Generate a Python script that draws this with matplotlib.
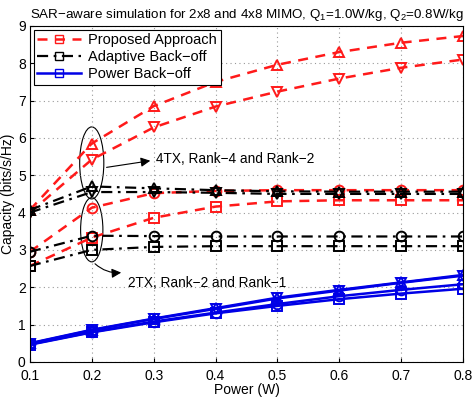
import numpy as np
import matplotlib
matplotlib.use("Agg")
import matplotlib.pyplot as plt
from matplotlib.patches import Ellipse
from matplotlib.lines import Line2D

plt.rcParams['font.family'] = ['Liberation Sans', 'DejaVu Sans']
plt.rcParams['mathtext.default'] = 'regular'

power = [0.1, 0.2, 0.3, 0.4, 0.5, 0.6, 0.7, 0.8]

# Proposed approach (4TX rank-4, 4TX rank-2, 2TX rank-2, 2TX rank-1)
prop_4tx_r4 = [4.07, 5.85, 6.85, 7.50, 7.96, 8.30, 8.55, 8.73]
prop_4tx_r2 = [4.00, 5.42, 6.28, 6.84, 7.24, 7.59, 7.88, 8.10]
prop_2tx_r2 = [2.95, 4.13, 4.52, 4.58, 4.60, 4.60, 4.60, 4.60]
prop_2tx_r1 = [2.57, 3.33, 3.86, 4.16, 4.30, 4.33, 4.33, 4.33]

# Adaptive back-off
adapt_4tx_r4 = [4.07, 4.70, 4.65, 4.60, 4.57, 4.56, 4.56, 4.56]
adapt_4tx_r2 = [4.00, 4.55, 4.55, 4.53, 4.50, 4.50, 4.50, 4.50]
adapt_2tx_r2 = [2.95, 3.38, 3.37, 3.36, 3.36, 3.36, 3.36, 3.36]
adapt_2tx_r1 = [2.57, 3.00, 3.08, 3.10, 3.10, 3.10, 3.10, 3.10]

# Power back-off
pwr_4tx_r4 = [0.50, 0.86, 1.16, 1.44, 1.72, 1.93, 2.13, 2.33]
pwr_4tx_r2 = [0.49, 0.85, 1.15, 1.42, 1.70, 1.91, 2.12, 2.31]
pwr_2tx_r2 = [0.47, 0.80, 1.08, 1.32, 1.55, 1.76, 1.93, 2.08]
pwr_2tx_r1 = [0.46, 0.79, 1.06, 1.30, 1.50, 1.68, 1.83, 1.96]

red = '#ff1a1a'
black = 'black'
blue = '#0000e6'

fig = plt.figure(figsize=(4.74, 3.99), dpi=100)
ax = fig.add_axes([0.063, 0.093, 0.914, 0.842])

marks = ['^', 'v', 'o', 's']

def draw(series, color, ls, lw, dashes=None):
    for vals, m in zip(series, marks):
        line, = ax.plot(power, vals, color=color, ls=ls, lw=lw, marker=m,
                        markersize=7, markerfacecolor='none',
                        markeredgecolor=color, markeredgewidth=1.4)
        if dashes is not None:
            line.set_dashes(dashes)

draw([prop_4tx_r4, prop_4tx_r2, prop_2tx_r2, prop_2tx_r1], red, '--', 1.8, (4, 3))
draw([adapt_4tx_r4, adapt_4tx_r2, adapt_2tx_r2, adapt_2tx_r1], black, '-.', 1.6, (5, 2.5, 1.2, 2.5))
draw([pwr_4tx_r4, pwr_4tx_r2, pwr_2tx_r2, pwr_2tx_r1], blue, '-', 1.8)

ax.set_xlim(0.1, 0.8)
ax.set_ylim(0, 9)
ax.set_xticks(power)
ax.set_yticks(range(10))
ax.grid(True, ls=(0, (1, 3)), color='#999999', lw=0.8)
ax.tick_params(labelsize=10, direction='in', length=3)
ax.tick_params(axis='y', pad=3)
ax.tick_params(axis='x', pad=5)
for s in ax.spines.values():
    s.set_linewidth(0.8)

ax.set_xlabel('Power (W)', fontsize=10, labelpad=0)
ax.set_ylabel('Capacity (bits/s/Hz)', fontsize=10, labelpad=2)
ax.set_title('SAR\u2212aware simulation for 2x8 and 4x8 MIMO, Q$_1$=1.0W/kg, Q$_2$=0.8W/kg',
             fontsize=9.6, pad=6)

# annotations
ax.add_patch(Ellipse((0.2, 5.33), 0.039, 1.93, fill=False, ec='black', lw=0.8))
ax.add_patch(Ellipse((0.2, 3.54), 0.036, 1.72, fill=False, ec='black', lw=0.8))
ax.annotate('', xy=(0.299, 5.4), xytext=(0.2195, 5.2),
            arrowprops=dict(arrowstyle='-|>', color='black', lw=0.8, mutation_scale=14))
ax.text(0.304, 5.43, '4TX, Rank\u22124 and Rank\u22122', fontsize=9.8, va='center')
ax.annotate('', xy=(0.252, 2.4), xytext=(0.202, 2.68),
            arrowprops=dict(arrowstyle='-|>', color='black', lw=0.8, mutation_scale=14,
                            connectionstyle='arc3,rad=0.25'))
ax.text(0.258, 2.12, '2TX, Rank\u22122 and Rank\u22121', fontsize=9.8, va='center')

handles = [
    Line2D([], [], color=red, ls='--', dashes=(4, 3), lw=1.8, marker='s', markersize=6,
           markerfacecolor='none', markeredgecolor=red),
    Line2D([], [], color=black, ls='-.', dashes=(5, 2.5, 1.2, 2.5), lw=1.6, marker='s', markersize=6,
           markerfacecolor='none', markeredgecolor=black),
    Line2D([], [], color=blue, ls='-', lw=1.8, marker='s', markersize=6,
           markerfacecolor='none', markeredgecolor=blue),
]
leg = ax.legend(handles, ['Proposed Approach', 'Adaptive Back\u2212off', 'Power Back\u2212off'],
                loc='upper left', fontsize=10.5, fancybox=False, edgecolor='black',
                handlelength=3.0, borderpad=0.25, labelspacing=0.2, handletextpad=0.5,
                borderaxespad=0.25, framealpha=1)
leg.get_frame().set_linewidth(0.8)

fig.savefig('out.png', dpi=100)
